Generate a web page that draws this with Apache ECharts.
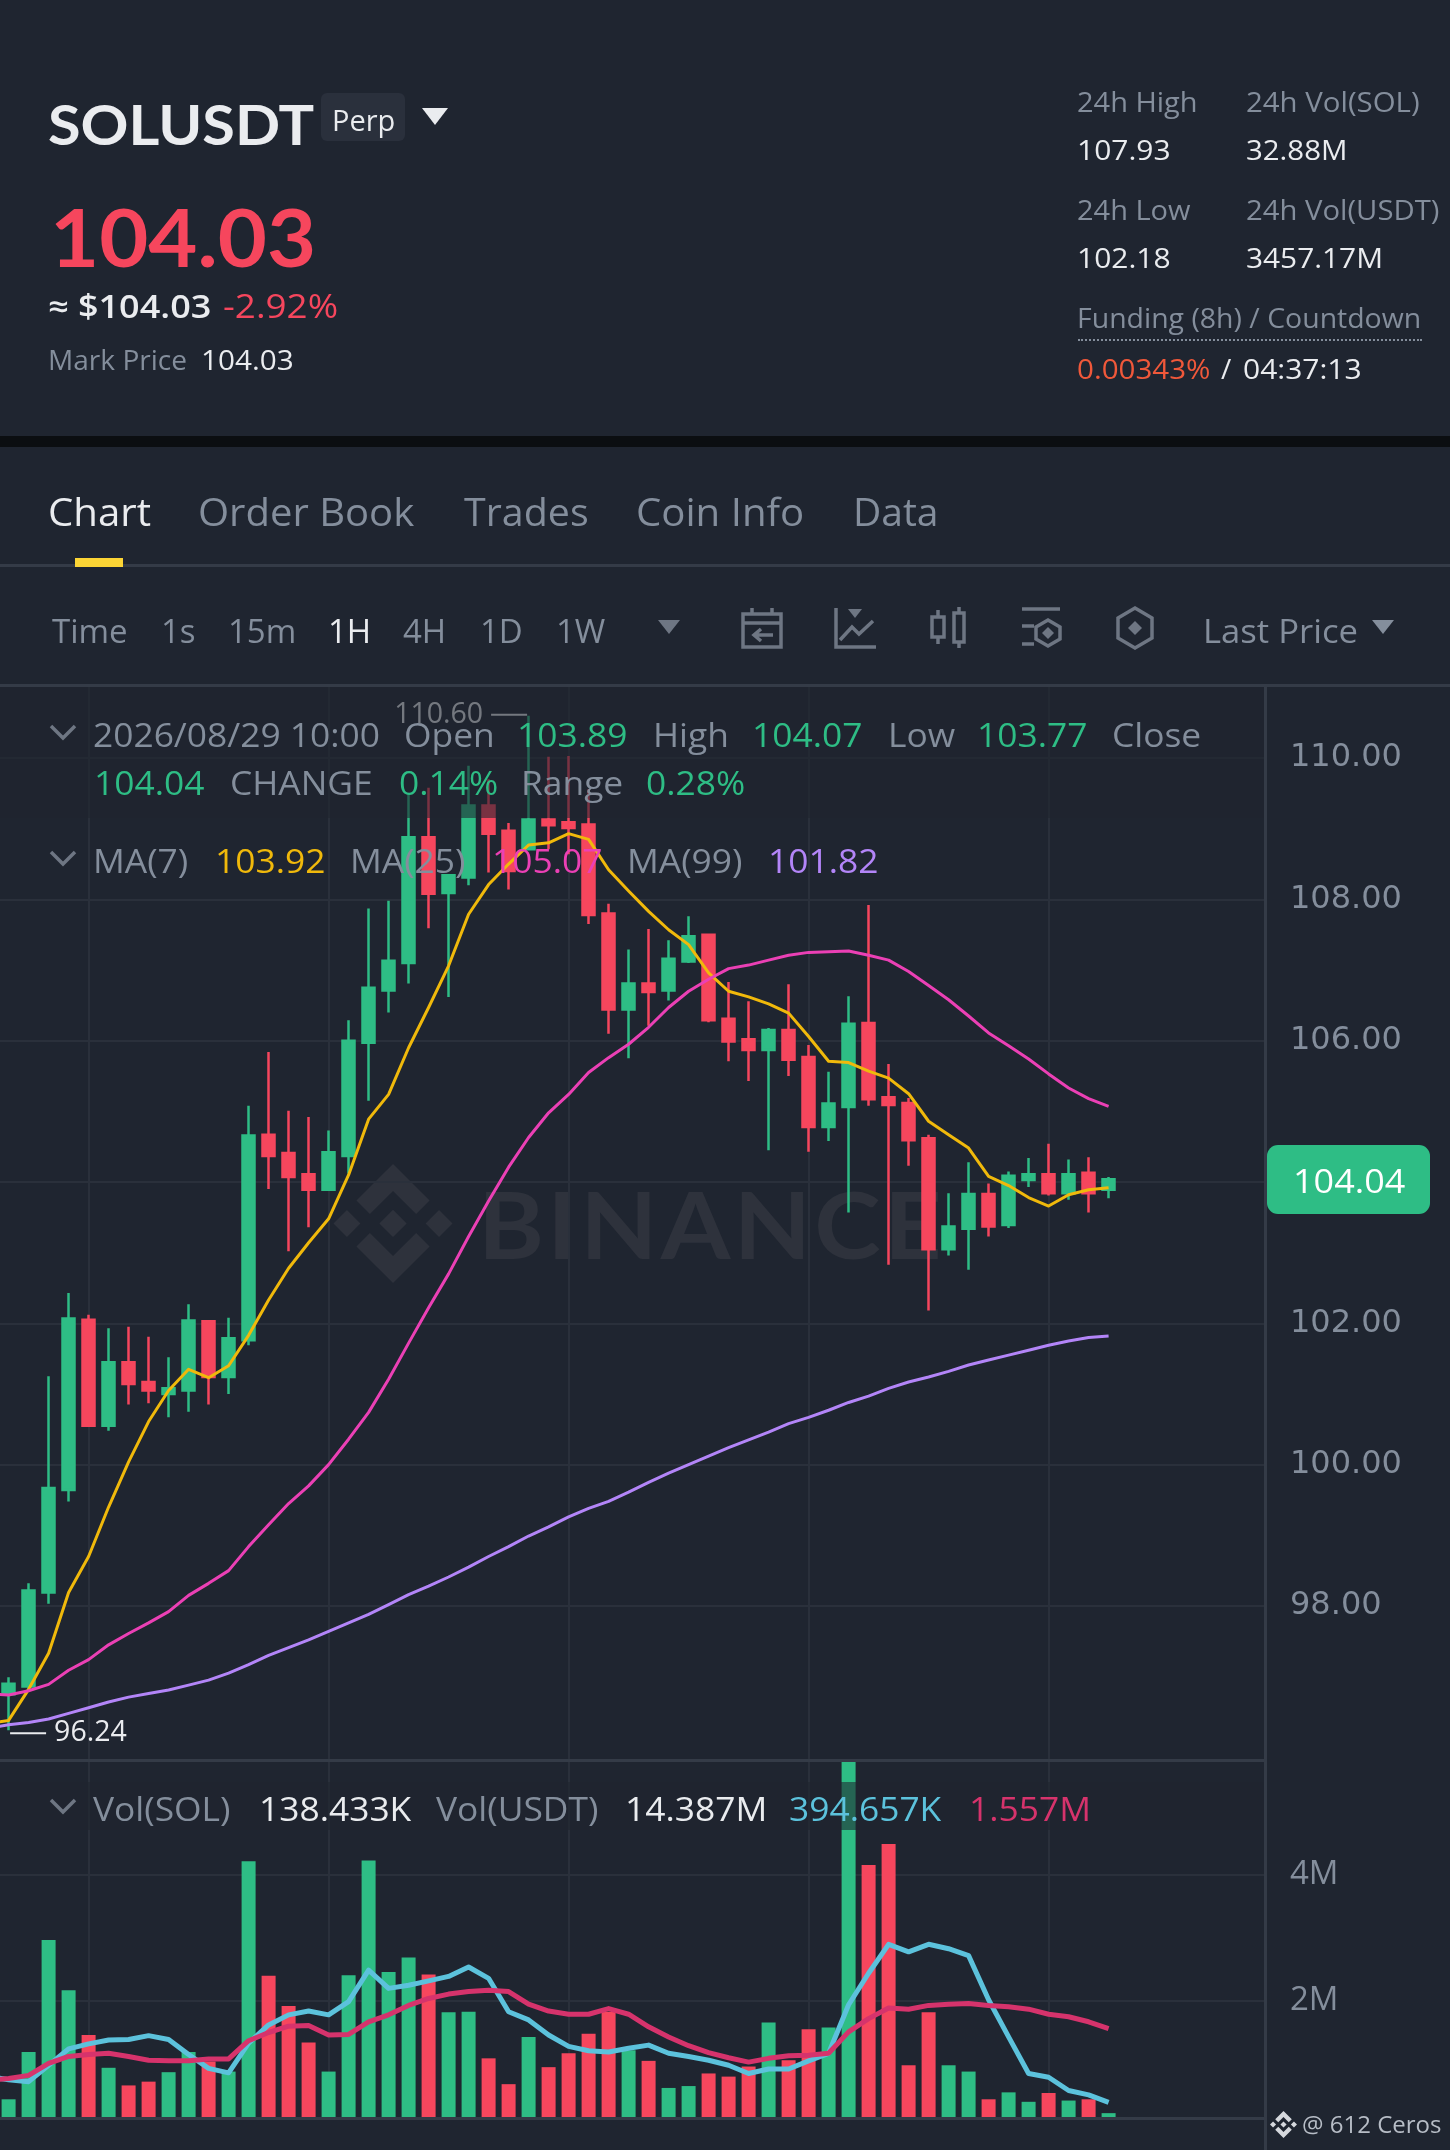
<!DOCTYPE html>
<html><head><meta charset="utf-8"><title>SOLUSDT</title>
<script src="https://cdn.jsdelivr.net/npm/echarts@6/dist/echarts.min.js"></script>
<style>
html,body{margin:0;padding:0;width:1450px;height:2150px;background:#1F2530;overflow:hidden;font-family:"Open Sans",sans-serif}
#wm,#chart,#over,#ui{position:absolute;left:0;top:0;width:1450px;height:2150px}
#wm{z-index:0}#chart{z-index:1}#over{z-index:2;pointer-events:none}#ui{z-index:3;pointer-events:none}
.t{position:absolute;white-space:nowrap;line-height:1;transform-origin:left center}
.b{position:absolute}
svg{position:absolute;overflow:visible}
</style></head><body>
<div id="wm"></div><div id="chart"></div><div id="over"></div><div id="ui"></div>
<script>
// ---- data ----
const opens =[96.75,96.86,98.19,99.64,102.05,100.55,101.45,101.17,101.00,101.05,102.03,101.24,101.76,104.67,104.41,104.11,103.89,104.37,105.97,106.71,107.10,108.88,108.09,108.31,109.33,108.97,108.71,109.13,109.09,109.06,107.80,106.44,106.81,106.71,107.12,107.50,106.31,106.02,105.87,106.15,105.77,104.78,105.06,106.25,105.20,105.12,104.62,103.05,103.34,103.83,103.39,104.03,104.11,103.84,104.13,103.89];
const closes=[96.90,98.22,99.67,102.07,100.55,101.45,101.14,101.05,101.08,102.04,101.24,101.79,104.66,104.37,104.07,103.89,104.42,106.00,106.75,107.13,108.88,108.08,108.34,109.33,108.93,108.40,109.13,109.05,109.01,107.78,106.44,106.81,106.69,107.16,107.48,106.29,105.99,105.87,106.15,105.73,104.78,105.11,106.24,105.17,105.09,104.59,103.05,103.37,103.83,103.37,104.09,104.11,103.84,104.11,103.84,104.04];
const lows  =[96.24,96.80,98.03,99.48,100.54,100.48,100.85,100.87,100.67,100.75,100.85,101.00,101.69,103.90,103.02,103.36,103.88,104.12,105.15,106.40,106.81,107.59,106.62,108.20,108.38,108.14,108.70,108.71,108.64,107.65,106.10,105.75,106.21,106.57,107.10,106.26,105.71,105.43,104.45,105.50,104.43,104.58,103.57,105.08,102.83,104.23,102.18,102.96,102.76,103.23,103.35,103.93,103.81,103.75,103.57,103.77];
const highs =[96.99,98.32,101.25,102.43,102.12,101.93,101.95,101.81,101.52,102.27,102.04,102.08,105.08,105.84,105.01,104.92,104.73,106.29,107.87,107.98,109.49,109.58,108.36,109.89,109.70,109.08,110.60,110.02,110.03,109.56,107.94,107.29,107.58,107.42,107.76,107.50,106.83,106.56,106.18,106.80,105.94,105.56,106.63,107.92,105.67,105.19,104.67,103.84,104.28,103.98,104.15,104.34,104.54,104.32,104.35,104.07];
// moving averages start one hour before the first whole candle: they run off the left edge
const ma7  =[96.34,96.38,96.82,97.33,98.19,98.70,99.40,100.04,100.61,101.05,101.35,101.23,101.40,101.83,102.33,102.78,103.14,103.48,104.10,104.89,105.24,105.90,106.47,107.06,107.79,108.21,108.50,108.77,108.80,108.93,108.85,108.42,108.12,107.83,107.57,107.36,106.96,106.70,106.62,106.52,106.39,106.06,105.71,105.69,105.57,105.47,105.25,104.86,104.67,104.48,104.08,103.95,103.78,103.66,103.82,103.89,103.92];
const ma25 =[96.76,96.74,96.80,96.89,97.09,97.24,97.45,97.61,97.76,97.92,98.15,98.32,98.50,98.84,99.15,99.45,99.70,100.00,100.36,100.74,101.21,101.72,102.22,102.70,103.23,103.73,104.21,104.63,104.98,105.24,105.55,105.76,105.95,106.19,106.47,106.70,106.87,107.02,107.07,107.14,107.21,107.25,107.26,107.27,107.21,107.14,106.98,106.78,106.58,106.35,106.11,105.93,105.74,105.53,105.33,105.18,105.07];
const ma99 =[96.27,96.32,96.35,96.40,96.48,96.56,96.64,96.71,96.76,96.81,96.88,96.95,97.05,97.17,97.30,97.41,97.52,97.64,97.76,97.88,98.02,98.16,98.28,98.41,98.55,98.70,98.84,98.99,99.12,99.26,99.38,99.48,99.61,99.75,99.88,100.00,100.12,100.24,100.35,100.46,100.58,100.67,100.77,100.88,100.97,101.08,101.17,101.24,101.32,101.41,101.48,101.55,101.62,101.69,101.75,101.80,101.82];
const volumes=[0.44,1.19,2.97,2.17,1.46,0.94,0.66,0.72,0.87,1.19,1.04,0.88,4.22,2.40,1.92,1.34,0.88,2.41,4.23,2.46,2.69,2.42,1.82,1.83,1.09,0.68,1.43,0.95,1.17,1.48,1.83,1.22,1.05,0.62,0.65,0.85,0.80,0.96,1.66,1.06,1.55,1.58,5.84,4.16,4.49,0.98,1.82,0.98,0.88,0.44,0.55,0.40,0.54,0.42,0.44,0.22];
const volMaBlue=[0.80,0.75,0.72,0.98,1.24,1.32,1.38,1.39,1.45,1.39,1.15,0.93,0.86,1.33,1.62,1.78,1.84,1.78,1.99,2.49,2.20,2.25,2.32,2.39,2.54,2.36,1.83,1.70,1.46,1.28,1.21,1.19,1.25,1.30,1.17,1.12,1.06,0.98,0.85,0.92,0.92,1.05,1.17,1.94,2.44,2.90,2.78,2.90,2.83,2.72,2.02,1.43,0.85,0.79,0.58,0.51,0.39];
const volMaRed =[0.74,0.77,0.82,1.01,1.12,1.15,1.17,1.12,1.06,1.05,1.05,1.08,1.08,1.37,1.50,1.60,1.61,1.46,1.47,1.67,1.78,1.93,2.04,2.11,2.15,2.17,2.15,1.95,1.84,1.79,1.79,1.88,1.79,1.59,1.43,1.29,1.18,1.10,1.03,1.09,1.13,1.14,1.17,1.51,1.72,1.89,1.87,1.93,1.95,1.96,1.93,1.91,1.87,1.79,1.75,1.67,1.56];
const priceTicks=[98,100,102,104,106,108,110];
const volumeTicks=[2,4];
const lastClose=104.04;
// one category per hour; index 56 is 2026/08/29 10:00; seven empty slots follow it, one off-screen slot precedes the first candle
const categories=[];
for(let i=0;i<64;i++){const d=new Date(Date.UTC(2026,7,29,10-56+i));categories.push(d.toISOString().slice(0,16).replace('T',' '));}

const GREEN='#2EBD85',RED='#F6465D',GRID='#2A303B',LINE='#343B47',GREY='#848E9C',WHITE='#EAECEF';
const YEL='#F0B90B',PINK='#EB40B5',PUR='#B385F8',BLUE='#5CC2DC',CRIM='#D6336C';

const chart=echarts.init(document.getElementById('chart'),null,{renderer:'canvas'});
const pLeft=-21.4,pW=1280;
const pTop=686,pH=1074,vTop=1761,vH=357,bTop=1759,bH=359;
const pMin=95.82,pMax=111.02,vMin=0.143,vMax=5.81,bMax=5.841;
const vLine={show:true,alignWithLabel:true,interval:(i)=>i%12===5,lineStyle:{color:GRID,width:2}};
const hLine={show:true,lineStyle:{color:GRID,width:2}};
const catAxis=(g)=>({type:'category',gridIndex:g,data:categories,boundaryGap:true,axisLine:{show:false},axisTick:{show:false},axisLabel:{show:false},splitLine:vLine});
const lineS=(name,d,c,w,x,y,z)=>({name,type:'line',data:d,xAxisIndex:x,yAxisIndex:y,showSymbol:false,symbol:'none',z,lineStyle:{color:c,width:w,join:'round'},itemStyle:{color:c},silent:true,clip:true});
const lbl=(v,side)=>{const s=v.toFixed(2);return side==='left'?'{t|'+s+'}{l|}':'{l|}{u|'+s+'}';};
const rich={t:{color:WHITE,fontSize:28.5,fontFamily:'Open Sans',padding:[0,8,0,0]},u:{color:WHITE,fontSize:28.5,fontFamily:'Open Sans',padding:[0,0,0,8]},l:{width:36,height:2,backgroundColor:WHITE}};
const hiddenMark={symbol:'circle',symbolSize:1,itemStyle:{color:'transparent',borderColor:'transparent'}};
const gridAt=(left,top,width,height)=>({left,top,width,height,outerBoundsMode:'none'});

chart.setOption({
 animation:false,backgroundColor:'transparent',
 grid:[gridAt(pLeft,pTop,pW,pH),gridAt(pLeft,bTop,pW,bH),gridAt(0,pTop,1265,pH),gridAt(0,vTop,1265,vH)],
 xAxis:[catAxis(0),catAxis(1),{type:'value',gridIndex:2,show:false,min:0,max:1},{type:'value',gridIndex:3,show:false,min:0,max:1}],
 yAxis:[
  {type:'value',gridIndex:0,min:pMin,max:pMax,show:false,splitLine:{show:false}},
  {type:'value',gridIndex:1,min:vMin,max:bMax,show:false,splitLine:{show:false}},
  {type:'value',gridIndex:2,min:pMin,max:pMax,position:'right',axisLine:{show:false},axisTick:{show:false,customValues:priceTicks},splitLine:hLine,
   axisLabel:{customValues:priceTicks,margin:25,color:GREY,fontSize:32,fontFamily:'DejaVu Sans',padding:[3,0,0,0],formatter:(v)=>Number(v).toFixed(2)}},
  {type:'value',gridIndex:3,min:vMin,max:vMax,position:'right',axisLine:{show:false},axisTick:{show:false,customValues:volumeTicks},splitLine:hLine,
   axisLabel:{customValues:volumeTicks,margin:25,color:GREY,fontSize:33,fontFamily:'Open Sans',formatter:(v)=>v+'M'}}
 ],
 series:[
  {name:'Kline',type:'candlestick',xAxisIndex:0,yAxisIndex:0,z:3,barWidth:12,clip:true,silent:true,
   data:['-'].concat(opens.map((o,i)=>[o,closes[i],lows[i],highs[i]])),
   itemStyle:{color:GREEN,color0:RED,borderColor:GREEN,borderColor0:RED,borderWidth:2.5},
   markPoint:{silent:true,animation:false,symbol:'circle',symbolSize:1,data:[
     Object.assign({coord:[categories[27],highs[26]],label:{show:true,position:'left',distance:0,offset:[0,-1],formatter:lbl(highs[26],'left'),rich}},hiddenMark),
     Object.assign({coord:[categories[1],lows[0]],label:{show:true,position:'right',distance:0,offset:[0,3],formatter:lbl(lows[0],'right'),rich}},hiddenMark)
   ]}},
  lineS('MA(7)',ma7,YEL,3,0,0,5),lineS('MA(25)',ma25,PINK,3,0,0,5),lineS('MA(99)',ma99,PUR,3,0,0,5),
  {name:'Vol',type:'bar',xAxisIndex:1,yAxisIndex:1,barWidth:14,clip:true,z:3,silent:true,
   data:['-'].concat(volumes.map((v,i)=>({value:v,itemStyle:{color:closes[i]>=opens[i]?GREEN:RED}})))},
  lineS('MA Vol 1',volMaBlue,BLUE,5,1,1,5),lineS('MA Vol 2',volMaRed,CRIM,5,1,1,6)
 ]
});

// ---- page furniture: real text around the chart ----
const ui=document.getElementById('ui'),over=document.getElementById('over'),wm=document.getElementById('wm');
function box(p,x,y,w,h,bg,extra){const d=document.createElement('div');d.className='b';d.style.cssText=`left:${x}px;top:${y}px;width:${w}px;height:${h}px;background:${bg};${extra||''}`;p.appendChild(d);return d;}
function T(s,x,y,size,color,k,weight,font){const d=document.createElement('div');d.className='t';d.textContent=s;d.style.cssText=`left:${x}px;top:${y}px;font-size:${size}px;color:${color};font-weight:${weight||400};font-family:${font||'"Open Sans"'},sans-serif;transform:translateY(-50%) scaleX(${k||1})`;ui.appendChild(d);}
function S(html,x,y,w,h,vb,p){const e=document.createElementNS('http://www.w3.org/2000/svg','svg');e.setAttribute('viewBox',vb);e.setAttribute('width',w);e.setAttribute('height',h);e.style.left=x+'px';e.style.top=y+'px';e.innerHTML=html;(p||ui).appendChild(e);}
const LOGO='M38.73 53.2l24.59-24.58 24.6 24.6 14.3-14.31L63.32 0 24.43 38.9zM0 63.31l14.3-14.31 14.31 14.31-14.31 14.3zM38.73 73.41l24.59 24.59 24.6-24.6 14.31 14.29-38.9 38.91-38.91-38.88-.02-.02zM98 63.31l14.3-14.3 14.3 14.3-14.3 14.3zM77.83 63.3L63.32 48.78 52.59 59.51l-1.24 1.23-2.54 2.54 14.51 14.5 14.51-14.52z';
// watermark
S(`<path fill="#2E323C" d="${LOGO}"/>`,333,1164,120,119,'0 0 126.61 126.61',wm);
{const d=document.createElement('div');d.className='t';d.textContent='BINANCE';d.style.cssText='left:478px;top:1224px;font-size:92px;font-weight:700;color:#2E323C;font-family:Lato,sans-serif;letter-spacing:3px;transform:translateY(-50%) scaleX(1.09)';wm.appendChild(d);}
// dim layer behind the legends
box(over,0,686,1265,132,'rgba(31,37,47,.58)');
box(over,0,1782,1265,48,'rgba(31,37,47,.58)');
// bands and dividers
box(ui,0,436,1450,11,'#0B0E11');
box(ui,0,564,1450,3,LINE);box(ui,75,558,48,9,'#FCD535');
box(ui,0,684,1450,3,LINE);box(ui,0,1759,1265,3,LINE);box(ui,0,2117,1265,3,LINE);
box(ui,1264,684,3,1466,LINE);
// header
T('SOLUSDT',48,124,55,'#EAECEF',1.08,700,'Lato');
box(ui,321,93,84,48,'#2A303C','border-radius:6px');T('Perp',332,119,29,WHITE);
S('<path d="M0 0H26L13 17Z" fill="#EAECEF"/>',422,108,26,17,'0 0 26 17');
T('104.03',50,236,80,RED,1.06,700,'Lato');
T('≈ $104.03',48,306,32,WHITE,1.125,600);T('-2.92%',223,306,32,RED,1.15,400);
T('Mark Price',48,359,27,GREY,1.04);T('104.03',201,359,27,WHITE,1.1);
T('24h High',1077,101,28,GREY,1.035);T('24h Vol(SOL)',1246,101,28,GREY,1.05);
T('107.93',1077,149,28,WHITE,1.07);T('32.88M',1246,149,28,WHITE,1.05);
T('24h Low',1077,209,28,GREY,1.035);T('24h Vol(USDT)',1246,209,28,GREY,1.045);
T('102.18',1077,257,28,WHITE,1.07);T('3457.17M',1246,257,28,WHITE,1.065);
T('Funding (8h) / Countdown',1077,317,28,GREY,1.016);
box(ui,1078,339,344,0,'none','border-top:2px dotted #848E9C');
T('0.00343%',1077,368,28,'#F0583A',1.055);T('/',1221,368,28,WHITE);T('04:37:13',1243,368,28,WHITE,1.07);
// tabs
T('Chart',48,510,39,WHITE,1.03,500);T('Order Book',198,510,39,GREY,1.026,500);T('Trades',464,510,39,GREY,1.01,500);T('Coin Info',636,510,39,GREY,1.03,500);T('Data',853,510,39,GREY,1,500);
// toolbar
[['Time',52],['1s',161],['15m',228],['4H',403],['1D',480],['1W',556]].forEach(a=>T(a[0],a[1],629.5,33,GREY));
T('1H',328,629.5,33,WHITE);T('Last Price',1203,629.5,33,GREY,1.05);
S('<path d="M0 0H22L11 14Z" fill="#6E7683"/>',658,620,22,14,'0 0 22 14');
S('<path d="M0 0H22L11 14Z" fill="#848E9C"/>',1372,620,22,14,'0 0 22 14');
const ic='fill="none" stroke="#6E7683" stroke-width="3.5"';
S(`<g ${ic}><rect x="2" y="7" width="38" height="33"/><path d="M2 16H40M11 1V8M31 1V8M32 28H14M20 22L13 28L20 34"/></g>`,741,607,42,42,'0 0 42 42');
S(`<g ${ic}><path d="M2 1V40H42M6 33L18 20L25 27L39 14"/></g><path d="M14 2H28L21 11Z" fill="#6E7683"/>`,834,607,42,42,'0 0 42 42');
S(`<g ${ic}><rect x="2" y="11" width="12" height="20"/><rect x="24" y="7" width="10" height="29"/><path d="M8 4V11M8 31V38M29 1V7M29 36V42"/></g>`,930,606,36,42,'0 0 36 42');
S(`<g ${ic}><path d="M2 3H40M2 20H14M2 38H14"/><path d="M28 14L40 21V33L28 40L16 33V21Z"/></g><path d="M28 21L34 27L28 33L22 27Z" fill="#6E7683"/>`,1020,606,42,42,'0 0 42 42');
S(`<g ${ic}><path d="M19 2L36 12V32L19 42L2 32V12Z"/></g><path d="M19 15L26 22L19 29L12 22Z" fill="#6E7683"/>`,1116,606,38,44,'0 0 38 44');
// chart legends
const chev=(y)=>S('<path d="M2 2L14 14L26 2" fill="none" stroke="#6E7683" stroke-width="3.5"/>',49,y,28,16,'0 0 28 16');
chev(724);chev(850);chev(1798);
const K=1.105;
T('2026/08/29 10:00',93,735,32,GREY,K);T('Open',404,735,32,GREY,K);T('103.89',517,735,32,GREEN,K);T('High',653,735,32,GREY,K);T('104.07',752,735,32,GREEN,K);T('Low',888,735,32,GREY,K);T('103.77',977,735,32,GREEN,K);T('Close',1112,735,32,GREY,K);
T('104.04',94,783,32,GREEN,K);T('CHANGE',230,783,32,GREY,K);T('0.14%',399,783,32,GREEN,K);T('Range',521,783,32,GREY,K);T('0.28%',646,783,32,GREEN,K);
T('MA(7)',93,861,32,GREY,K);T('103.92',215,861,32,YEL,K);T('MA(25)',350,861,32,GREY,K);T('105.07',492,861,32,PINK,K);T('MA(99)',627,861,32,GREY,K);T('101.82',768,861,32,PUR,K);
T('Vol(SOL)',93,1809,32,GREY,K);T('138.433K',259,1809,32,WHITE,K);T('Vol(USDT)',436,1809,32,GREY,K);T('14.387M',625,1809,32,WHITE,K);T('394.657K',789,1809,32,BLUE,K);T('1.557M',969,1809,32,CRIM,K);
// last price tag
box(ui,1267,1145,163,69,GREEN,'border-radius:11px');T(lastClose.toFixed(2),1293,1180,33,'#FFFFFF',1.09);
// credit
S(`<path fill="#D5D8DD" d="${LOGO}"/>`,1270,2111,27,27,'0 0 126.61 126.61');
T('@ 612 Ceros',1302,2124,24,'#B7BDC6');
</script></body></html>
